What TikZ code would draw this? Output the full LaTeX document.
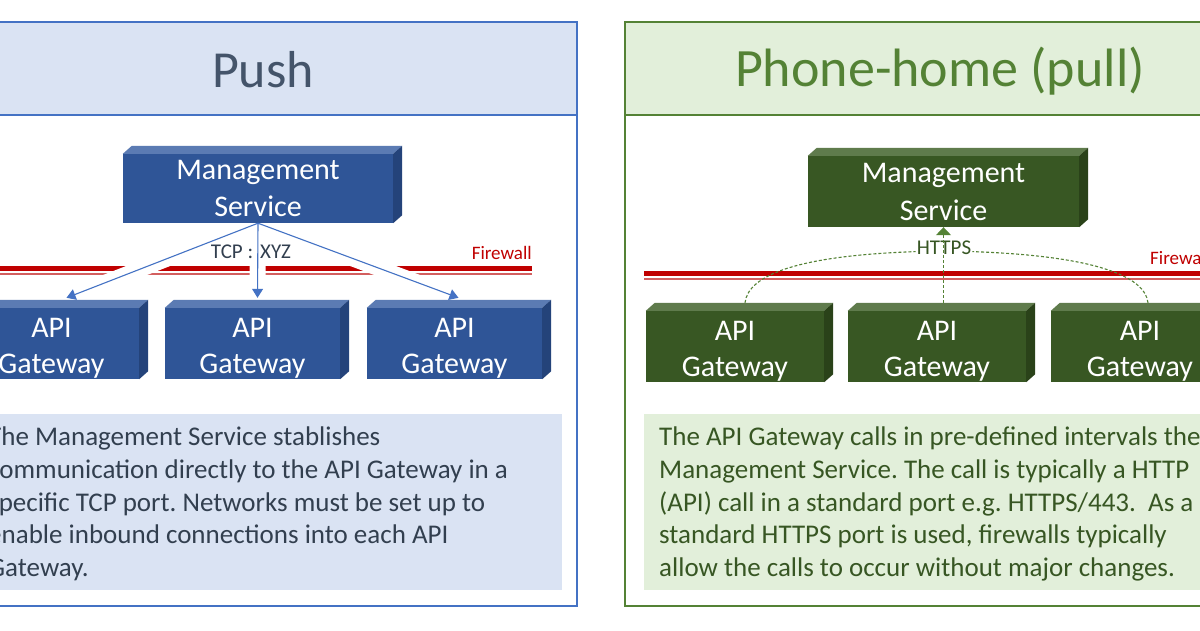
\documentclass[tikz,border=0pt]{standalone}
\usepackage{fontspec}
\setmainfont{Carlito}
\frenchspacing
\usetikzlibrary{arrows.meta}
\definecolor{pushblue}{HTML}{4472C4}
\definecolor{pushfill}{HTML}{DAE3F3}
\definecolor{pushtitle}{HTML}{44546A}
\definecolor{pushtext}{HTML}{323F4F}
\definecolor{boxfront}{HTML}{2F5597}
\definecolor{boxtop}{HTML}{5B7BB3}
\definecolor{boxside}{HTML}{24437A}
\definecolor{pullgreen}{HTML}{548235}
\definecolor{pullfill}{HTML}{E2EFDA}
\definecolor{pulltext}{HTML}{375623}
\definecolor{gboxfront}{HTML}{385723}
\definecolor{gboxtop}{HTML}{5F7B4C}
\definecolor{gboxside}{HTML}{2A4219}
\definecolor{fwred}{HTML}{C00000}
\definecolor{fwlight}{HTML}{D35F5F}
\begin{document}
\begin{tikzpicture}[x=1pt,y=-1pt,
        blk/.style={inner sep=0pt,align=center,text=white,font=\fontsize{30}{36}\selectfont},
        body/.style={anchor=north west,inner sep=0pt,align=left,font=\fontsize{27}{32.6}\selectfont},
        arr/.style={pushblue,line width=1.1pt,-{Triangle[width=11pt,length=9pt]}},
        conn/.style={pullgreen,line width=1.1pt,dash pattern=on 3pt off 2pt}]
        \useasboundingbox (0,0) rectangle (1200,630);
        \fill[white] (0,0) rectangle (1200,630);

        \draw[pushblue,line width=1.5pt,fill=white] (-10,22) rectangle (577,606);
        \draw[pushblue,line width=1.5pt,fill=pushfill] (-10,22) rectangle (577,115);
        \draw[pullgreen,line width=1.5pt,fill=white] (625,22) rectangle (1210,606);
        \draw[pullgreen,line width=1.5pt,fill=pullfill] (625,22) rectangle (1210,115);
        \node[anchor=base,text=pushtitle,font=\fontsize{52}{60}\selectfont] (ttlL) at (263,87) {Push};
        \node[anchor=base,text=pullgreen,font=\fontsize{54}{60}\selectfont] (ttlR) at (940,86) {Phone-home (pull)};

        \fill[pushfill] (-30,414) rectangle (562,590);
        \fill[pullfill] (644,414) rectangle (1210,590);
        \node[body,text=pushtext] (txtL) at (-12,427) {The Management Service stablishes\\communication directly to the API Gateway in a\\specific TCP port. Networks must be set up to\\enable inbound connections into each API\\Gateway.};
        \node[body,text=pulltext] (txtR) at (659,427) {The API Gateway calls in pre-defined intervals the\\Management Service. The call is typically a HTTP\\(API) call in a standard port e.g. HTTPS/443.~ As a\\standard HTTPS port is used, firewalls typically\\allow the calls to occur without major changes.};

        \node[blk,fill=boxfront,minimum width=270pt,minimum height=69pt,font=\fontsize{30}{37}\selectfont] (mgL) at (258,188.5) {Management\\Service};
        \node[blk,fill=boxfront,minimum width=175pt,minimum height=71pt] (gwLa) at (51.5,343.5) {\rule{0pt}{29pt}API\\Gateway};
        \node[blk,fill=boxfront,minimum width=175pt,minimum height=71pt] (gwLb) at (252.5,343.5) {\rule{0pt}{29pt}API\\Gateway};
        \node[blk,fill=boxfront,minimum width=175pt,minimum height=71pt] (gwLc) at (454.5,343.5) {\rule{0pt}{29pt}API\\Gateway};
        \node[blk,fill=gboxfront,minimum width=271pt,minimum height=71pt,font=\fontsize{30}{38}\selectfont] (mgR) at (943.5,191.5) {Management\\Service};
        \node[blk,fill=gboxfront,minimum width=178pt,minimum height=71pt] (gwRa) at (735,346.5) {\rule{0pt}{29pt}API\\Gateway};
        \node[blk,fill=gboxfront,minimum width=178pt,minimum height=71pt] (gwRb) at (937,346.5) {\rule{0pt}{29pt}API\\Gateway};
        \node[blk,fill=gboxfront,minimum width=178pt,minimum height=71pt] (gwRc) at (1140,346.5) {\rule{0pt}{29pt}API\\Gateway};
        \foreach \n/\ct/\cs in {mgL/boxtop/boxside,gwLa/boxtop/boxside,gwLb/boxtop/boxside,gwLc/boxtop/boxside,
                mgR/gboxtop/gboxside,gwRa/gboxtop/gboxside,gwRb/gboxtop/gboxside,gwRc/gboxtop/gboxside} {
            \fill[\ct] (\n.north west) -- ++(9,-8) -- ([shift={(9,-8)}]\n.north east) -- (\n.north east) -- cycle;
            \fill[\cs] (\n.north east) -- ++(9,-8) -- ([shift={(9,-8)}]\n.south east) -- (\n.south east) -- cycle;
        }

        \draw[fwred,line width=5pt] (-5,268.5) -- (532,268.5);
        \draw[fwlight,line width=2pt] (-5,274) -- (532,274);
        \draw[fwred,line width=5pt] (644,273.5) -- (1210,273.5);
        \draw[fwlight,line width=2pt] (644,279) -- (1210,279);
        \node[anchor=base east,text=fwred,font=\fontsize{19}{22}\selectfont,inner sep=0pt] (fwL) at (532,259) {Firewall};
        \node[anchor=base west,text=fwred,font=\fontsize{19}{22}\selectfont,inner sep=0pt] (fwR) at (1150,264) {Firewall};

        \begin{scope}
            \clip (-10,262) rectangle (560,280);
            \draw[white,line width=16pt] (mgL.south) -- ([shift={(15,-10)}]gwLa.north);
            \draw[white,line width=16pt] (mgL.south) -- ([shift={(5,-10)}]gwLb.north);
            \draw[white,line width=16pt] (mgL.south) -- ([shift={(4,-10)}]gwLc.north);
        \end{scope}
        \draw[arr] (mgL.south) -- ([shift={(15,-10)}]gwLa.north);
        \draw[arr] (mgL.south) -- ([shift={(5,-10)}]gwLb.north);
        \draw[arr] (mgL.south) -- ([shift={(4,-10)}]gwLc.north);
        \node[anchor=base,text=pushtext,font=\fontsize{21}{24}\selectfont,inner sep=0pt] (tcp) at (251,258) {TCP :\,\,XYZ};

        \node[anchor=base,text=pulltext,font=\fontsize{21}{24}\selectfont,inner sep=1pt] (https) at (944,254) {HTTPS};
        \coordinate (tipR) at (mgR.south |- gwRb.north);
        \draw[conn,-{Triangle[width=15pt,length=8pt]}] ([yshift=8pt]tipR) -- (mgR.south);
        \draw[conn] ([shift={(10,-8)}]gwRa.north) .. controls +(3,-28) and +(-117,4) .. (https.mid west);
        \draw[conn] ([shift={(8,-8)}]gwRc.north) .. controls +(-3,-28) and +(117,4) .. (https.mid east);
\end{tikzpicture}
\end{document}
